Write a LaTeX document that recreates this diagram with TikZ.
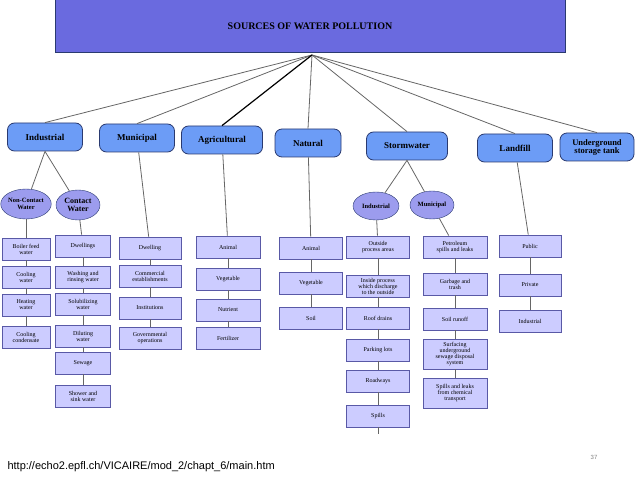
\documentclass[tikz,border=0pt]{standalone}
\usepackage{fontspec}
\setmainfont{Liberation Serif}
\newfontfamily\urlfont{Liberation Sans}
\usetikzlibrary{shapes.geometric}
\definecolor{titleblue}{HTML}{6A6ADF}
\definecolor{topblue}{HTML}{6C9CF6}
\definecolor{ellblue}{HTML}{9C9CEE}
\definecolor{boxblue}{HTML}{CCCCFF}
\definecolor{edgeblue}{HTML}{2A3A70}
\tikzset{
	title/.style  = {draw=edgeblue, fill=titleblue, minimum width=510pt, minimum height=53pt,
		font=\bfseries\fontsize{10}{11}\selectfont},
	source/.style = {draw=edgeblue, thick, fill=topblue, rounded corners=7pt, minimum height=28pt,
		align=center, font=\bfseries\fontsize{9}{9}\selectfont, inner sep=1pt},
	kind/.style   = {draw=edgeblue, fill=ellblue, ellipse, inner sep=0pt, align=center,
		font=\bfseries\fontsize{6.5}{6.5}\selectfont},
	item/.style   = {draw=gray!70!blue, thick, fill=boxblue, minimum height=22pt, align=center,
		inner sep=0pt, font=\fontsize{6}{6}\selectfont},
	link/.style   = {draw=gray!80!black, thick}
}
\begin{document}
\begin{tikzpicture}[x=1pt, y=-1pt]
	\useasboundingbox (0,0) rectangle (638,478);
	% title and sources
	\node[title] (top) at (310,26) {SOURCES OF WATER POLLUTION};
	\coordinate (hub) at (312,55);
	\node[source, minimum width=75pt] (ind) at (45,137) {Industrial};
	\node[source, minimum width=75pt] (mun) at (137,138) {Municipal};
	\node[source, minimum width=81pt] (agr) at (222,140) {Agricultural};
	\node[source, minimum width=66pt] (nat) at (308,143) {Natural};
	\node[source, minimum width=81pt] (sto) at (407,146) {Stormwater};
	\node[source, minimum width=75pt] (lan) at (515,148) {Landfill};
	\node[source, minimum width=74pt, font=\bfseries\fontsize{8.5}{8}\selectfont] (und) at (597,147) {Underground\\storage tank};
	\foreach \s in {ind,mun,nat,sto,lan,und}
		\draw[link] (hub) -- (\s.north);
	\draw[very thick, black] (hub) -- (agr.north);

	% sub kinds
	\node[kind, minimum width=48pt, minimum height=30pt] (nc) at (26,204) {Non-Contact\\Water};
	\node[kind, minimum width=44pt, minimum height=30pt, font=\bfseries\fontsize{8}{8}\selectfont] (cw) at (78,205) {Contact\\Water};
	\node[kind, minimum width=46pt, minimum height=28pt] (si) at (376,206) {Industrial};
	\node[kind, minimum width=44pt, minimum height=28pt] (sm) at (432,205) {Municipal};
	\draw[link] (ind.south) -- (nc);
	\draw[link] (ind.south) -- (cw);
	\draw[link] (sto.south) -- (si);
	\draw[link] (sto.south) -- (sm);

	% Non-contact water
	\node[item, minimum width=48pt] (nc1) at (26,249) {Boiler feed\\water};
	\node[item, minimum width=48pt] (nc2) at (26,277) {Cooling\\water};
	\node[item, minimum width=48pt] (nc3) at (26,305) {Heating\\water};
	\node[item, minimum width=48pt] (nc4) at (26,337) {Cooling\\condensate};
	% Contact water
	\node[item, minimum width=55pt] (cw1) at (83,246) {Dwellings};
	\node[item, minimum width=55pt] (cw2) at (83,277) {Washing and\\rinsing water};
	\node[item, minimum width=55pt] (cw3) at (83,304) {Solubilizing\\water};
	\node[item, minimum width=55pt] (cw4) at (83,336) {Diluting\\water};
	\node[item, minimum width=55pt] (cw5) at (83,363) {Sewage};
	\node[item, minimum width=55pt] (cw6) at (83,396) {Shower and\\sink water};
	% Municipal
	\node[item, minimum width=62pt] (mu1) at (150,248) {Dwelling};
	\node[item, minimum width=62pt] (mu2) at (150,276) {Commercial\\establishments};
	\node[item, minimum width=62pt] (mu3) at (150,308) {Institutions};
	\node[item, minimum width=62pt] (mu4) at (150,338) {Governmental\\operations};
	% Agricultural
	\node[item, minimum width=64pt] (ag1) at (228,247) {Animal};
	\node[item, minimum width=64pt] (ag2) at (228,279) {Vegetable};
	\node[item, minimum width=64pt] (ag3) at (228,310) {Nutrient};
	\node[item, minimum width=64pt] (ag4) at (228,338) {Fertilizer};
	% Natural
	\node[item, minimum width=63pt] (na1) at (311,248) {Animal};
	\node[item, minimum width=63pt] (na2) at (311,283) {Vegetable};
	\node[item, minimum width=63pt] (na3) at (311,318) {Soil};
	% Stormwater industrial
	\node[item, minimum width=63pt] (si1) at (378,247) {Outside\\process areas};
	\node[item, minimum width=63pt] (si2) at (378,286) {Inside process\\which discharge\\to the outside};
	\node[item, minimum width=63pt] (si3) at (378,318) {Roof drains};
	\node[item, minimum width=63pt] (si4) at (378,350) {Parking lots};
	\node[item, minimum width=63pt] (si5) at (378,381) {Roadways};
	\node[item, minimum width=63pt] (si6) at (378,416) {Spills};
	\coordinate (siend) at (378,434);
	% Stormwater municipal
	\node[item, minimum width=64pt] (sm1) at (455,247) {Petroleum\\spills and leaks};
	\node[item, minimum width=64pt] (sm2) at (455,284) {Garbage and\\trash};
	\node[item, minimum width=64pt] (sm3) at (455,319) {Soil runoff};
	\node[item, minimum width=64pt, minimum height=30pt] (sm4) at (455,354) {Surfacing\\underground\\sewage disposal\\system};
	\node[item, minimum width=64pt, minimum height=30pt] (sm5) at (455,393) {Spills and leaks\\from chemical\\transport};
	% Landfill
	\node[item, minimum width=62pt] (la1) at (530,246) {Public};
	\node[item, minimum width=62pt] (la2) at (530,285) {Private};
	\node[item, minimum width=62pt] (la3) at (530,321) {Industrial};

	% connectors
	\foreach \a/\b in {nc/nc1,nc1/nc2,nc2/nc3,nc3/nc4,
		cw/cw1,cw1/cw2,cw2/cw3,cw3/cw4,cw4/cw5,cw5/cw6,
		mun/mu1,mu1/mu2,mu2/mu3,mu3/mu4,
		agr/ag1,ag1/ag2,ag2/ag3,ag3/ag4,
		nat/na1,na1/na2,na2/na3,
		si/si1,si1/si2,si2/si3,si3/si4,si4/si5,si5/si6,si6/siend,
		sm/sm1,sm1/sm2,sm2/sm3,sm3/sm4,sm4/sm5,
		lan/la1,la1/la2,la2/la3}
		\draw[link] (\a) -- (\b);

	% footer
	\node[anchor=west, font=\urlfont\fontsize{11}{11}\selectfont] (url) at (4,467) {http://echo2.epfl.ch/VICAIRE/mod\_2/chapt\_6/main.htm};
	\node[font=\urlfont\fontsize{6}{6}\selectfont, text=gray] (page) at (594,457) {37};
\end{tikzpicture}
\end{document}
